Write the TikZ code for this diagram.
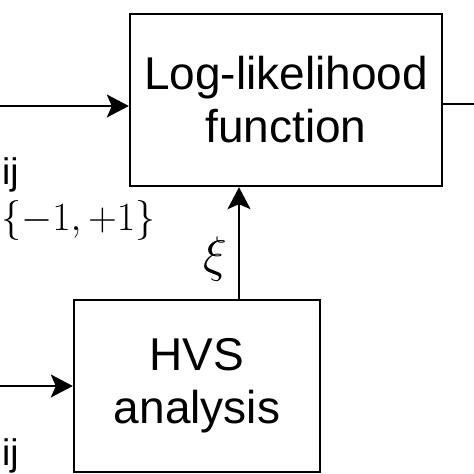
\RequirePackage{fix-cm}
\documentclass[tikz,border=0pt]{standalone}
\usepackage{fontspec}
\newfontfamily\arialfont{Liberation Sans}
\usetikzlibrary{arrows.meta}

\tikzset{
  block/.style={draw, line width=2.4pt, inner sep=0pt, align=center,
    font=\arialfont\fontsize{46}{53}\selectfont},
  link/.style={line width=1.8pt, -{Stealth[length=22pt,width=23pt,inset=5pt]}},
  idx/.style={font=\arialfont\fontsize{37}{42}\selectfont, anchor=base west, inner sep=0pt}
}

\begin{document}
\begin{tikzpicture}[x=1pt, y=-1pt]
            \useasboundingbox (0,0) rectangle (474,474);

            \node[block, minimum width=312pt, minimum height=172pt] (L) at (286,100) {Log-likelihood\\function};
            \node[block, minimum width=246pt, minimum height=172pt] (H) at (197,386) {HVS\\analysis};

            \coordinate (inL) at (0,106);
            \coordinate (inH) at (0,386);
            \coordinate (outL) at (474,104);
            \coordinate (tap) at (239,0);

            \node[idx] (ija) at (2,184) {ij};
            \node[font=\fontsize{40}{46}\selectfont, anchor=base west, inner sep=0pt] (set) at (1,230) {$\{-1,+1\}$};
            \node[idx] (ijb) at (2,465) {ij};
            \node[font=\fontsize{50}{54}\selectfont, inner sep=0pt] (xi) at (215,259) {$\xi$};

            \draw[link] (inL) -- (inL -| L.west);
            \draw[link] (inH) -- (H);
            \draw[line width=1.8pt] (outL -| L.east) -- (outL);
            \draw[link] (tap |- H.north) -- (tap |- L.south);
        \end{tikzpicture}
\end{document}
